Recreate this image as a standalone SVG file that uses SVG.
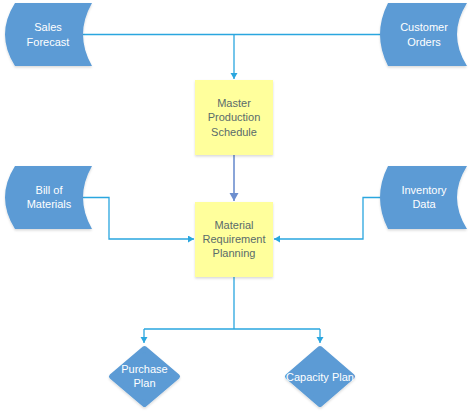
<svg xmlns="http://www.w3.org/2000/svg" width="474" height="415" viewBox="0 0 474 415">
<style>
.data{fill:#5b9bd5;filter:url(#sh)}
.proc{fill:#ffff9c;filter:url(#sh)}
.dec{fill:#5b9bd5;stroke:#5b9bd5;stroke-width:5;stroke-linejoin:round;filter:url(#sh)}
.wt{font-family:"Liberation Sans",Arial,sans-serif;font-size:11px;fill:#ffffff;text-anchor:middle}
.dt{font-family:"Liberation Sans",Arial,sans-serif;font-size:11px;fill:#5a6b6b;text-anchor:middle}
.c{fill:none;stroke:#2aa6df;stroke-width:1.3}
.c2{fill:none;stroke:#6d8fcf;stroke-width:1.6}
</style>
<defs>
<filter id="sh" x="-10%" y="-10%" width="120%" height="130%">
<feDropShadow dx="0" dy="1.5" stdDeviation="1.2" flood-color="#000" flood-opacity="0.15"/>
</filter>
<marker id="a" markerWidth="8" markerHeight="8" refX="6" refY="3.5" orient="auto" markerUnits="userSpaceOnUse">
<path d="M0,0 L6,3.5 L0,7 Z" fill="#2aa6df"/>
</marker>
<marker id="a2" markerWidth="10" markerHeight="10" refX="8" refY="4.5" orient="auto" markerUnits="userSpaceOnUse">
<path d="M0,0 L8,4.5 L0,9 Z" fill="#6d8fcf"/>
</marker>
</defs>
<g id="connectors">
<path class="c" d="M83,34.5 H380"/>
<path class="c" d="M234,34.5 V79" marker-end="url(#a)"/>
<path class="c2" d="M234,155 V201" marker-end="url(#a2)"/>
<path class="c" d="M83,197.5 H109 V239 H194" marker-end="url(#a)"/>
<path class="c" d="M380,197.5 H363 V239 H274" marker-end="url(#a)"/>
<path class="c" d="M234,277 V329 M144,329 H320"/>
<path class="c" d="M144,329 V343" marker-end="url(#a)"/>
<path class="c" d="M320,329 V343" marker-end="url(#a)"/>
</g>
<g id="sales-forecast">
<path class="data" d="M15,3 L92,3 Q74,34.5 92,66 L15,66 Q-5,34.5 15,3 Z"/>
<text class="wt" x="48" y="31">Sales</text>
<text class="wt" x="48" y="46">Forecast</text>
</g>
<g id="customer-orders">
<path class="data" d="M388,3 L467,3 Q447,34.5 467,66 L388,66 Q372,34.5 388,3 Z"/>
<text class="wt" x="424" y="31">Customer</text>
<text class="wt" x="424" y="46">Orders</text>
</g>
<g id="master-production-schedule">
<rect class="proc" x="195" y="80" width="78" height="75"/>
<text class="dt" x="234" y="107">Master</text>
<text class="dt" x="234" y="121">Production</text>
<text class="dt" x="234" y="136">Schedule</text>
</g>
<g id="bill-of-materials">
<path class="data" d="M15,166 L92,166 Q74,197.5 92,229 L15,229 Q-5,197.5 15,166 Z"/>
<text class="wt" x="49" y="194">Bill of</text>
<text class="wt" x="49" y="208">Materials</text>
</g>
<g id="inventory-data">
<path class="data" d="M388,166 L467,166 Q447,197.5 467,229 L388,229 Q372,197.5 388,166 Z"/>
<text class="wt" x="424" y="194">Inventory</text>
<text class="wt" x="424" y="208">Data</text>
</g>
<g id="material-requirement-planning">
<rect class="proc" x="195" y="202" width="78" height="75"/>
<text class="dt" x="234" y="229">Material</text>
<text class="dt" x="234" y="243">Requirement</text>
<text class="dt" x="234" y="257">Planning</text>
</g>
<g id="purchase-plan">
<polygon class="dec" points="144.5,348.5 177.5,376.5 144.5,404.5 111.5,376.5"/>
<text class="wt" x="144.5" y="373">Purchase</text>
<text class="wt" x="144.5" y="387">Plan</text>
</g>
<g id="capacity-plan">
<polygon class="dec" points="320,348.5 352.5,376.5 320,404.5 287.5,376.5"/>
<text class="wt" x="320" y="381">Capacity Plan</text>
</g>
</svg>
